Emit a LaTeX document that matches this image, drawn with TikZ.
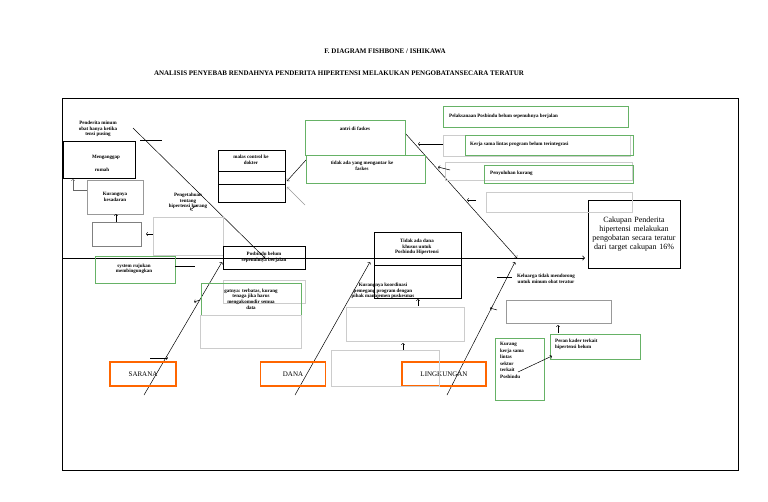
\documentclass[tikz,border=0pt]{standalone}
\usepackage{fontspec}
\setmainfont{Liberation Serif}
\begin{document}
\begin{tikzpicture}[x=1pt,y=-1pt,
  bx/.style={draw=black,line width=0.8pt},
  gb/.style={draw=green!50!black!60,line width=0.6pt},
  lb/.style={draw=black!20,line width=0.5pt},
  ob/.style={draw=orange!80!red,line width=1.2pt},
  tx/.style={font=\fontsize{5}{5.6}\selectfont\bfseries,align=center,inner sep=0pt},
  ar/.style={->,>=to,line width=0.5pt}]
\useasboundingbox (0,0) rectangle (768,501);
\fill[white] (0,0) rectangle (768,501);
\node[font=\fontsize{7}{8}\selectfont\bfseries] (t1) at (385,51) {F. DIAGRAM FISHBONE / ISHIKAWA};
\node[font=\fontsize{7}{8}\selectfont\bfseries] (t2) at (339,73) {ANALISIS PENYEBAB RENDAHNYA PENDERITA HIPERTENSI MELAKUKAN PENGOBATANSECARA TERATUR};
\draw[line width=0.8pt] (62,98) rectangle (738,470);
\node[bx,draw,minimum width=92,minimum height=68,text width=84,align=center,font=\fontsize{8}{9}\selectfont,inner sep=1pt] (eff) at (634,234) {Cakupan Penderita hipertensi melakukan pengobatan secara teratur dari target cakupan 16\%};
\coordinate (s0) at (62,258);
\coordinate (s1) at (585,258);
\draw[ar,line width=0.8pt] (s0) -- (s1);
\coordinate (u1a) at (133,128); \coordinate (u1b) at (265,258);
\coordinate (u2a) at (405,133); \coordinate (u2b) at (517,258);
\coordinate (l1a) at (144,395); \coordinate (l1b) at (222,262);
\coordinate (l2a) at (295,395); \coordinate (l2b) at (370,262);
\coordinate (l3a) at (447,395); \coordinate (l3b) at (515,262);
\draw[ar] (u1a) -- (u1b);
\draw[ar] (u2a) -- (u2b);
\draw[ar] (l1a) -- (l1b);
\draw[ar] (l2a) -- (l2b);
\draw[ar] (l3a) -- (l3b);
\node[ob,draw,minimum width=66,minimum height=24,font=\fontsize{7}{8}\selectfont] (sar) at (143,374) {SARANA};
\node[ob,draw,minimum width=65,minimum height=24,font=\fontsize{7}{8}\selectfont] (dana) at (293,374) {DANA};
\node[ob,draw,minimum width=84,minimum height=24,font=\fontsize{7}{8}\selectfont] (ling) at (444,374) {LINGKUNGAN};
\node[tx] (pm) at (98,129) {Penderita minum\\obat hanya ketika\\tensi pusing};
\draw (140,140) -- (162,140);
\draw[bx] (63,141) rectangle (135,178);
\node[tx,anchor=west] (mg) at (92,157) {Menganggap};
\node[tx] (rm) at (102,170) {rumah};
\draw[draw=black!40] (87,180) rectangle (143,214);
\node[tx] (kes) at (115,197) {Kurangnya\\kesadaran};
\draw[ar,black!60] (87,190) -- (73,190) -- (73,179);
\draw[draw=black!50] (92,222) rectangle (141,246);
\draw[ar] (116,222) -- (116,214);
\draw[ar] (153,234) -- (146,234);
\draw[lb] (153,217) rectangle (223,255);
\node[tx] (pg) at (188,201) {Pengetahuan\\tentang\\hipertensi kurang};
\draw[bx] (218,150) rectangle (285,202);
\draw (218,171) -- (285,171); \draw (218,184) -- (285,184);
\node[tx] (mc) at (251,160) {malas control ke\\dokter};
\draw[ar] (306,160) -- (287,181);
\draw[ar,black!40] (305,205) -- (287,187);
\draw[gb] (305,120) rectangle (405,155);
\node[tx] (an) at (355,129) {antri di faskes};
\draw[gb] (306,155) rectangle (425,183);
\node[tx] (tm) at (362,166) {tidak ada yang mengantar ke\\faskes};
\draw[ar] (197,205) -- (190,210);
\draw[gb] (443,106) rectangle (628,127);
\node[tx,anchor=west] (pp) at (449,116) {Pelaksanaan Posbindu belum sepenuhnya berjalan};
\draw[lb] (443,135) rectangle (630,156);
\draw[gb] (465,135) rectangle (633,155);
\node[tx,anchor=west] (ks) at (470,144) {Kerja sama lintas program belum terintegrasi};
\draw[ar] (443,144) -- (418,144);
\draw[lb] (445,162) rectangle (632,180);
\draw[gb] (484,165) rectangle (633,183);
\node[tx,anchor=west] (pk) at (490,173) {Penyuluhan kurang};
\draw[ar] (450,170) -- (438,167);
\draw[lb] (486,192) rectangle (632,212);
\draw[ar] (476,200) -- (467,200);
\draw[bx] (223,246) rectangle (305,269);
\node[tx] (pb) at (264,257) {Posbindu belum\\sepenuhnya berjalan};
\draw[gb] (95,256) rectangle (175,283);
\node[tx] (sr) at (134,269) {system rujukan\\membingungkan};
\draw (175,266) -- (195,266);
\draw[bx] (374,232) rectangle (461,265);
\draw[bx] (374,265) rectangle (461,298);
\node[tx] (td) at (417,247) {Tidak ada dana\\khusus untuk\\Posbindu Hipertensi};
\node[tx] (kk) at (383,291) {Kurangnya koordinasi\\pemegang program dengan\\pihak manajemen puskesmas};
\draw[ar] (418,306) -- (418,299);
\draw[lb] (346,307) rectangle (464,341);
\draw[ar] (403,350) -- (403,343);
\draw[lb] (331,350) rectangle (439,386);
\draw[lb] (223,280) rectangle (305,303);
\draw[gb] (201,283) rectangle (301,315);
\node[tx] (gt) at (251,299) {gatnya: terbatas, kurang\\tenaga jika harus\\mengakomodir semua\\data};
\draw[lb] (200,315) rectangle (301,348);
\draw[ar] (200,300) -- (194,302);
\draw[ar] (150,358) -- (168,358);
\node[tx] (kl) at (546,279) {Keluarga tidak mendorong\\untuk minum obat teratur};
\draw (497,277) -- (512,277);
\draw[lb,black!40] (506,300) rectangle (611,323);
\draw[ar] (558,333) -- (558,325);
\draw[ar] (497,310) -- (490,308);
\draw[gb] (495,338) rectangle (544,400);
\node[tx,align=left,anchor=north west] (kr) at (500,342) {Kurang\\[1pt]kerja sama\\[1pt]lintas\\[1pt]sektor\\[1pt]terkait\\[1pt]Posbindu};
\draw[gb] (550,334) rectangle (640,359);
\node[tx,align=left,anchor=north west] (pr) at (555,339) {Peran kader terkait\\hipertensi belum};
\coordinate (k1) at (518,372);
\draw[ar] (k1) -- (552,356);
\end{tikzpicture}
\end{document}
